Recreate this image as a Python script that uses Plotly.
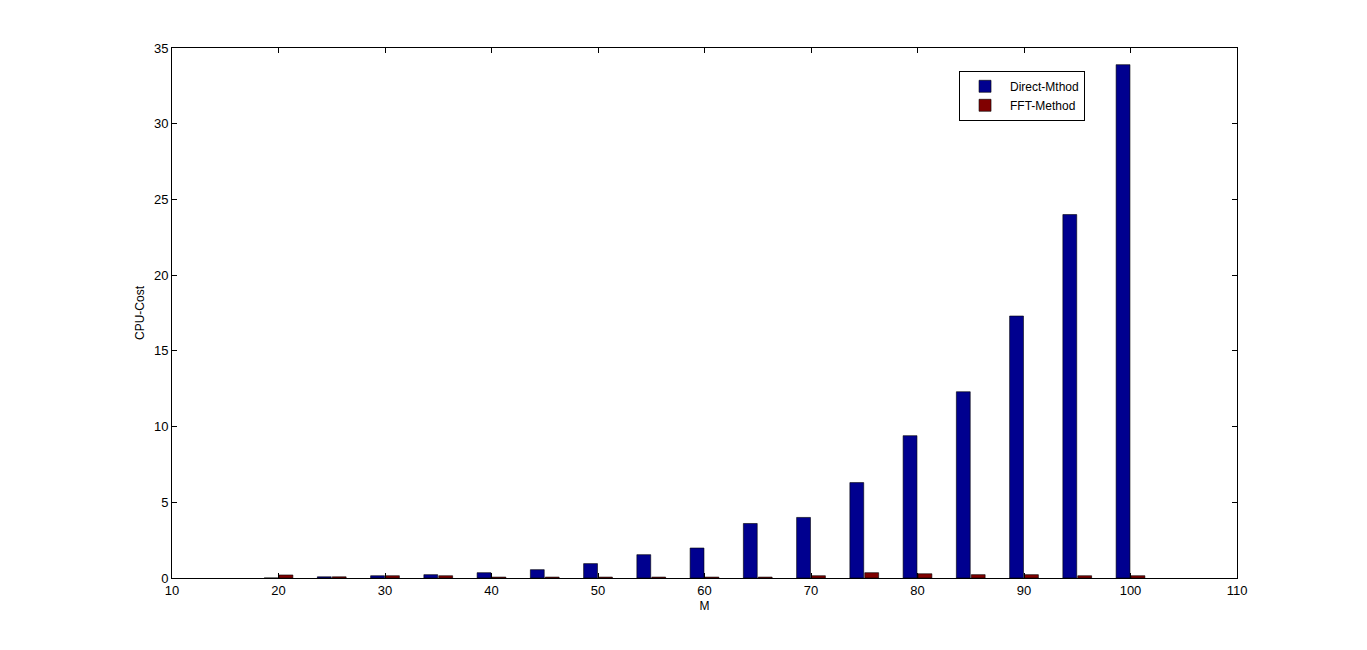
import plotly.graph_objects as go

# problem size M
m_values = [20, 25, 30, 35, 40, 45, 50, 55, 60, 65, 70, 75, 80, 85, 90, 95, 100]

# CPU cost
direct_cost = [0.0, 0.08, 0.15, 0.22, 0.35, 0.55, 0.95, 1.54, 1.98, 3.6, 4.0, 6.3, 9.4, 12.3, 17.3, 24.0, 33.9]
fft_cost = [0.2, 0.08, 0.15, 0.15, 0.06, 0.06, 0.06, 0.06, 0.06, 0.06, 0.15, 0.35, 0.28, 0.22, 0.22, 0.15, 0.15]

BLUE = "#00008F"
RED = "#800000"

fig = go.Figure()
fig.add_trace(go.Bar(x=m_values, y=direct_cost, name="Direct-Mthod",
                     marker=dict(color=BLUE, line=dict(color="black", width=0.6))))
fig.add_trace(go.Bar(x=m_values, y=fft_cost, name="FFT-Method",
                     marker=dict(color=RED, line=dict(color="black", width=0.6))))

axis_style = dict(showline=True, linecolor="black", linewidth=1, mirror="ticks",
                  ticks="inside", ticklen=5, tickcolor="black", showgrid=False,
                  zeroline=False, tickfont=dict(family="Liberation Sans, Arial", size=13, color="black"))

# page body adds 8px offset, margins compensate for it
fig.update_layout(
    width=1367, height=650,
    paper_bgcolor="white", plot_bgcolor="white",
    margin=dict(l=164, r=138, t=40, b=80),
    barmode="group", bargap=0.44, bargroupgap=0.07,
    font=dict(family="Liberation Sans, Arial", size=12, color="black"),
    showlegend=True,
    legend=dict(x=0.739, y=0.957, xanchor="left", yanchor="top",
                bordercolor="black", borderwidth=1, bgcolor="white",
                font=dict(size=12), itemwidth=40, tracegroupgap=0),
)
fig.update_xaxes(range=[10, 110], tickmode="linear", tick0=10, dtick=10,
                 title=dict(text="M", standoff=5, font=dict(size=12)), **axis_style)
fig.update_yaxes(range=[0, 35], tickmode="linear", tick0=0, dtick=5,
                 title=dict(text="CPU-Cost", standoff=6, font=dict(size=12)), **axis_style)

fig.write_html("out.html")
